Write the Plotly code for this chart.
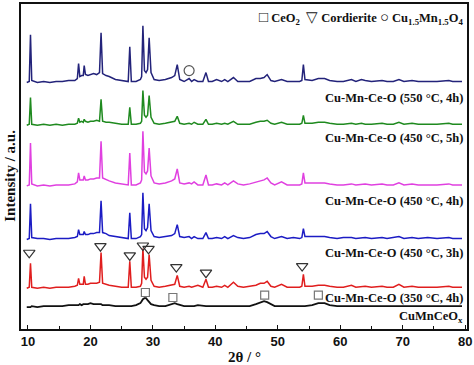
import plotly.graph_objects as go

# 2-theta sample points (degrees)
TWO_THETA = [9.8, 10.2, 10.4, 10.6, 11.5, 12.5, 13.5, 14.5, 15.5, 16.5,
             17.5, 17.9, 18.1, 18.3, 18.6, 18.85, 19.0, 19.2, 19.6, 20.0,
             20.5, 21.0, 21.45, 21.7, 21.95, 22.5, 23.0, 24.0, 25.0, 26.05,
             26.3, 26.55, 27.3, 28.0, 28.2, 28.4, 28.65, 28.9, 29.15, 29.4,
             29.7, 30.2, 31.0, 32.0, 33.0, 33.5, 33.9, 34.3, 35.0, 35.8,
             36.2, 36.6, 37.2, 38.0, 38.5, 38.9, 39.5, 40.2, 41.0, 41.5,
             42.0, 42.9, 43.6, 44.5, 45.5, 46.5, 47.2, 47.8, 48.3, 48.9,
             49.5, 50.6, 51.5, 52.5, 53.5, 53.85, 54.1, 54.35, 55.5, 56.5,
             57.5, 58.3, 59.5, 60.5, 61.8, 62.5, 63.4, 64.0, 65.0, 66.7,
             67.5, 68.5, 69.4, 70.2, 71.5, 72.5, 74.0, 75.5, 77.4, 78.0, 79.5]

# Intensities (a.u.) relative to each pattern's own baseline
I_550_4H = [0, 1, 48, 2, 0, 1, 0, 1, 1, 2,
            2, 4, 19, 6, 7, 7, 17, 8, 7, 8,
            9, 8, 10, 50, 9, 7, 6, 3, 2, 1,
            36, 1, 1, 3, 6, 57, 12, 10, 13, 45,
            10, 3, 2, 3, 5, 7, 18, 3, 1, 4,
            1, 3, 1, 1, 10, 1, 1, 3, 1, 3,
            1, 5, 1, 1, 1, 4, 4, 5, 8, 2,
            1, 3, 1, 1, 1, 2, 18, 3, 2, 4,
            4, 2, 1, 1, 3, 1, 3, 2, 1, 2,
            1, 1, 3, 1, 2, 1, 1, 1, 2, 1, 1]
I_450_5H = [0, 1, 28, 1, 0, 1, 0, 1, 0, 1,
            1, 2, 7, 3, 4, 3, 6, 4, 3, 4,
            4, 5, 4, 26, 4, 3, 3, 2, 1, 1,
            18, 1, 1, 2, 4, 35, 10, 8, 10, 30,
            8, 2, 1, 2, 3, 4, 9, 2, 1, 2,
            1, 3, 1, 1, 6, 1, 1, 2, 1, 2,
            1, 4, 1, 1, 1, 3, 4, 4, 5, 2,
            1, 3, 1, 1, 1, 2, 10, 2, 2, 3,
            3, 2, 1, 1, 2, 1, 2, 1, 1, 2,
            1, 1, 3, 1, 2, 1, 1, 1, 2, 1, 1]
I_450_4H = [0, 1, 43, 2, 0, 1, 0, 1, 1, 1,
            2, 4, 13, 6, 6, 6, 10, 6, 6, 7,
            7, 8, 8, 45, 8, 6, 5, 3, 2, 1,
            33, 1, 1, 3, 6, 55, 14, 12, 15, 38,
            10, 3, 2, 3, 5, 7, 17, 3, 2, 3,
            2, 4, 1, 1, 11, 1, 1, 2, 1, 3,
            1, 5, 2, 1, 2, 4, 5, 6, 8, 3,
            1, 4, 1, 1, 1, 2, 13, 3, 3, 3,
            3, 2, 1, 1, 2, 1, 2, 2, 1, 2,
            1, 1, 3, 1, 2, 1, 1, 1, 2, 1, 1]
I_450_3H = [0, 1, 36, 2, 1, 1, 0, 1, 1, 1,
            2, 3, 10, 5, 5, 5, 8, 5, 5, 6,
            6, 7, 7, 39, 7, 6, 4, 3, 2, 1,
            27, 1, 1, 3, 5, 47, 11, 9, 12, 36,
            9, 3, 2, 3, 4, 6, 15, 3, 2, 3,
            1, 3, 1, 1, 7, 1, 1, 2, 1, 3,
            1, 4, 2, 1, 2, 5, 6, 6, 8, 3,
            1, 3, 1, 2, 1, 2, 11, 3, 3, 3,
            3, 2, 1, 2, 2, 1, 2, 2, 1, 2,
            1, 2, 3, 1, 2, 1, 2, 1, 2, 1, 1]
I_350_4H = [0, 1, 25, 1, 0, 1, 0, 1, 1, 1,
            2, 3, 10, 4, 4, 4, 12, 4, 4, 5,
            5, 5, 6, 36, 5, 4, 3, 2, 1, 1,
            27, 1, 1, 2, 5, 40, 11, 9, 11, 34,
            8, 2, 1, 2, 3, 4, 13, 2, 1, 2,
            1, 2, 3, 1, 9, 1, 1, 2, 1, 3,
            1, 6, 2, 1, 2, 3, 5, 5, 7, 2,
            1, 4, 1, 1, 1, 2, 14, 2, 2, 3,
            3, 2, 1, 1, 3, 1, 2, 2, 1, 2,
            1, 1, 4, 1, 2, 1, 1, 1, 2, 1, 1]
I_CUMNCEOX = [0, 0, 0, 1, 0, 1, 1, 1, 1, 2,
              2, 2, 2, 3, 2, 3, 3, 3, 3, 4,
              3, 3, 3, 3, 2, 2, 2, 1, 1, 1,
              1, 1, 2, 4, 6, 8, 9, 9, 7, 5,
              3, 2, 1, 1, 3, 4, 3, 2, 1, 1,
              1, 1, 2, 1, 1, 1, 1, 1, 1, 1,
              1, 1, 1, 1, 1, 3, 5, 6, 5, 3,
              1, 1, 1, 1, 1, 1, 1, 1, 2, 4,
              4, 2, 1, 1, 1, 1, 1, 1, 1, 1,
              1, 1, 1, 1, 1, 1, 1, 1, 1, 1, 1]

SERIES_NAMES = ["Cu-Mn-Ce-O (550 °C, 4h)", "Cu-Mn-Ce-O (450 °C, 5h)",
                "Cu-Mn-Ce-O (450 °C, 4h)", "Cu-Mn-Ce-O (450 °C, 3h)",
                "Cu-Mn-Ce-O (350 °C, 4h)", "CuMnCeO<sub>x</sub>"]
SERIES_DATA = [I_550_4H, I_450_5H, I_450_4H, I_450_3H, I_350_4H, I_CUMNCEOX]
OFFSETS = [248, 205, 144, 90, 41, 22]
LABEL_Y = [232, 192, 129, 76, 31, 12]
COLORS = ["#23237a", "#1f8a1f", "#e040e0", "#1c1cc4", "#e01e1e", "#111111"]
WIDTHS = [1.5, 1.5, 1.5, 1.5, 1.5, 1.8]

# Phase markers
CEO2_POS = [28.8, 33.2, 47.9, 56.5]
CEO2_Y = [36.7, 31.7, 34, 34]
CORD_POS = [10.2, 21.6, 26.3, 28.4, 29.3, 33.75, 38.5, 53.9]
CORD_Y = [76.7, 83.3, 74, 84, 80.7, 62.3, 56.7, 63.3]
SPINEL_POS = [35.8]
SPINEL_Y = [260]

SERIF = "Liberation Serif"
SANS = "Liberation Sans"

fig = go.Figure()
for name, data, off, col, w in zip(SERIES_NAMES, SERIES_DATA, OFFSETS, COLORS, WIDTHS):
    fig.add_trace(go.Scatter(x=TWO_THETA, y=[v + off for v in data], mode="lines",
                             line=dict(color=col, width=w), name=name, showlegend=False))

fig.add_trace(go.Scatter(x=CEO2_POS, y=CEO2_Y, mode="markers", showlegend=False,
                         marker=dict(symbol="square", size=8, color="white",
                                     line=dict(color="#777777", width=1.2))))
fig.add_trace(go.Scatter(x=CORD_POS, y=CORD_Y, mode="markers", showlegend=False,
                         marker=dict(symbol="triangle-down-open", size=10,
                                     color="#333333", line=dict(width=1.2))))
fig.add_trace(go.Scatter(x=SPINEL_POS, y=SPINEL_Y, mode="markers", showlegend=False,
                         marker=dict(symbol="circle-open", size=10,
                                     color="#555555", line=dict(width=1.2))))

for name, ly in zip(SERIES_NAMES, LABEL_Y):
    fig.add_annotation(x=0.995, xref="paper", y=ly, yref="y", text="<b>" + name + "</b>",
                       showarrow=False, xanchor="right", yanchor="middle",
                       font=dict(family=SERIF, size=12.5, color="#111111"))

SYM = '<span style="font-size:15px;font-weight:normal">{}</span>'
fig.add_annotation(x=0.995, xref="paper", y=0.957, yref="paper",
                   text=(SYM.format("□") + " <b>CeO<sub>2</sub></b>  " + SYM.format("▽")
                         + " <b>Cordierite</b> " + SYM.format("○")
                         + " <b>Cu<sub>1.5</sub>Mn<sub>1.5</sub>O<sub>4</sub></b>"),
                   showarrow=False, xanchor="right", yanchor="middle",
                   font=dict(family=SERIF, size=12.5, color="#111111"))

fig.add_annotation(x=0.5, xref="paper", y=-0.086, yref="paper", text="<b>2θ / °</b>",
                   showarrow=False, xanchor="center", yanchor="middle",
                   font=dict(family=SERIF, size=15, color="#111111"))
fig.add_annotation(x=-0.025, xref="paper", y=0.471, yref="paper", text="<b>Intensity / a.u.</b>",
                   showarrow=False, xanchor="center", yanchor="middle", textangle=-90,
                   font=dict(family=SERIF, size=15, color="#111111"))

fig.update_layout(
    width=474, height=365,
    margin=dict(l=21, r=6, t=2, b=36),
    paper_bgcolor="white", plot_bgcolor="white",
    xaxis=dict(range=[8.88, 80.3], showline=True, mirror=True, linecolor="#111111",
               linewidth=1.5, ticks="inside", tick0=10, dtick=10, ticklen=4,
               tickwidth=1.2, tickcolor="#111111", showgrid=False, zeroline=False,
               tickfont=dict(family=SANS, size=13, color="#111111", weight="bold"),
               minor=dict(dtick=5, ticks="inside", ticklen=3, tickwidth=1.2,
                          tickcolor="#111111", showgrid=False)),
    yaxis=dict(range=[0, 327], showline=True, mirror=True, linecolor="#111111",
               linewidth=1.5, ticks="", showticklabels=False, showgrid=False,
               zeroline=False),
)

fig.write_html("out.html", config={"displayModeBar": False},
               post_script="document.body.style.margin='0';")
